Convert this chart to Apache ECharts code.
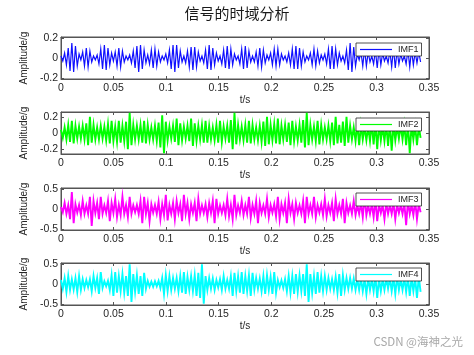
<!DOCTYPE html>
<html>
<head>
<meta charset="utf-8">
<script src="https://cdn.jsdelivr.net/npm/echarts@6/dist/echarts.min.js"></script>
<style>
html,body{margin:0;padding:0;background:#fff;}
#chart{width:474px;height:355px;}
</style>
</head>
<body>
<div id="chart"></div>
<script>
// ---- data ----
const titleText = '信号的时域分析';
const seriesNames = ['IMF1', 'IMF2', 'IMF3', 'IMF4'];
const xTicks = [0, 0.05, 0.1, 0.15, 0.2, 0.25, 0.3, 0.35];
const yTicks1 = [-0.2, 0, 0.2];
const yTicks2 = [-0.2, 0, 0.2];
const yTicks3 = [-0.5, 0, 0.5];
const yTicks4 = [-0.5, 0, 0.5];
const tEnd = 0.342; // last sample time (s)

const imf1 = [
 0.02,-0.03,0.05,
 -0.07,0.10,-0.13,0.15,-0.14,0.12,-0.08,0.04,
 -0.02,
 0.06,-0.08,0.10,-0.09,0.07,-0.04,
 0.02,-0.02,0.03,
 -0.06,0.09,-0.11,0.13,-0.12,0.10,-0.07,0.05,-0.03,
 0.06,-0.08,0.10,-0.09,0.07,-0.04,0.02,
 -0.02,0.03,-0.05,
 0.07,-0.10,0.12,-0.14,0.13,-0.11,0.08,-0.05,0.03,
 -0.06,0.08,-0.10,0.09,-0.08,0.06,-0.04,0.02,
 -0.02,0.04,-0.05,
 0.08,-0.11,0.13,-0.14,0.13,-0.10,0.07,-0.04,0.02,
 -0.05,0.07,-0.09,0.11,-0.12,0.11,-0.09,0.06,-0.03,0.02,
 -0.05,0.08,-0.11,0.13,-0.12,0.10,-0.07,0.05,-0.03,0.02,
 -0.06,0.08,-0.10,0.12,-0.11,0.09,-0.07,0.04,-0.02,0.02,
 -0.06,0.09,-0.11,0.12,-0.10,0.07,-0.04,0.02,
 -0.04,0.06,-0.08,0.10,-0.09,0.08,-0.05,0.03,-0.02,
 0.05,-0.07,0.09,-0.08,0.09,-0.07,0.04,-0.02,0.02,-0.04,
 0.05,-0.07,0.09,-0.11,0.12,-0.11,0.10,-0.08,0.06,-0.04,0.02,-0.02,
 0.05,-0.07,0.09,-0.08,0.07,-0.05,0.03,-0.02,
 0.04,-0.06,0.09,-0.11,0.12,-0.11,0.09,-0.07,0.05,-0.03,0.02,
 -0.05,0.08,-0.12,0.15,-0.14,0.11,-0.08,0.04,-0.02,
 0.06,-0.08,0.09,-0.08,0.06,-0.04,0.02,
 -0.06,0.08,-0.10,0.09,-0.07,0.05,-0.03,0.02,
 -0.05,0.07,-0.09,0.10,-0.10,0.08,-0.06,0.04,-0.03,0.02,
 -0.06,0.08,-0.09,0.08,-0.07,0.06,-0.05,0.06,-0.04
];

const imf2 = [
 0.04,-0.06,0.07,-0.08,0.10,-0.11,0.15,-0.13,0.09,-0.07,
 0.08,-0.07,0.09,-0.08,0.12,-0.15,0.20,-0.12,0.10,-0.08,
 0.07,-0.08,0.09,-0.07,0.08,-0.09,0.11,-0.13,0.15,-0.10,
 0.08,-0.11,0.15,-0.12,0.09,-0.10,0.14,-0.20,0.25,-0.15,
 0.10,-0.08,0.09,-0.08,0.10,-0.12,0.15,-0.13,0.10,-0.08,
 0.07,-0.08,0.09,-0.10,0.13,-0.18,0.22,-0.25,0.14,-0.09,
 0.08,-0.07,0.09,-0.11,0.18,-0.15,0.12,-0.09,0.08,-0.07,
 0.09,-0.10,0.18,-0.16,0.12,-0.10,0.09,-0.08,0.10,-0.12,
 0.15,-0.12,0.09,-0.08,0.07,-0.09,0.10,-0.12,0.15,-0.11,
 0.08,-0.07,0.09,-0.12,0.16,-0.20,0.25,-0.14,0.10,-0.08,
 0.08,-0.09,0.10,-0.12,0.15,-0.13,0.10,-0.08,0.07,-0.09,
 0.09,-0.11,0.14,-0.16,0.20,-0.14,0.10,-0.09,0.11,-0.13,
 0.18,-0.14,0.09,-0.08,0.10,-0.11,0.13,-0.15,0.15,-0.10,
 0.08,-0.09,0.10,-0.12,0.16,-0.18,0.25,-0.15,0.10,-0.08,
 0.08,-0.10,0.15,-0.14,0.10,-0.08,0.07,-0.08,0.09,-0.10,
 0.13,-0.15,0.20,-0.13,0.10,-0.12,0.14,-0.16,0.20,-0.12,
 0.09,-0.08,0.07,-0.10,0.12,-0.15,0.10,-0.08,0.07,-0.09,
 0.08,-0.10,0.12,-0.14,0.13,-0.20,0.12,-0.09,0.08,-0.10,
 0.11,-0.16,0.13,-0.22,0.11,-0.09,0.08,-0.07,0.09,-0.08,
 0.10,-0.15,0.12,-0.25,0.10,-0.08,0.09,-0.15,0.08,-0.06
];

const imf3 = [
 0.05,-0.08,0.15,-0.12,0.10,-0.25,0.42,-0.35,0.12,-0.09,
 0.10,-0.15,0.20,-0.12,0.09,-0.12,0.30,-0.42,0.20,-0.10,
 0.15,-0.25,0.30,-0.12,0.09,-0.10,0.20,-0.30,0.15,-0.10,
 0.25,-0.20,0.10,-0.15,0.30,-0.12,0.10,-0.20,0.30,-0.12,
 0.09,-0.08,0.10,-0.12,0.20,-0.35,0.30,-0.12,0.15,-0.30,
 0.12,-0.09,0.10,-0.12,0.18,-0.25,0.12,-0.15,0.35,-0.28,
 0.10,-0.12,0.15,-0.25,0.20,-0.10,0.12,-0.30,0.35,-0.12,
 0.15,-0.25,0.12,-0.10,0.15,-0.30,0.25,-0.12,0.09,-0.10,
 0.12,-0.20,0.15,-0.10,0.20,-0.35,0.25,-0.12,0.09,-0.10,
 0.10,-0.15,0.25,-0.18,0.10,-0.25,0.35,-0.15,0.09,-0.10,
 0.20,-0.15,0.10,-0.12,0.30,-0.22,0.10,-0.12,0.20,-0.35,
 0.15,-0.10,0.09,-0.12,0.25,-0.20,0.10,-0.09,0.12,-0.18,
 0.30,-0.25,0.12,-0.10,0.15,-0.35,0.25,-0.10,0.12,-0.25,
 0.15,-0.10,0.09,-0.12,0.20,-0.35,0.30,-0.12,0.10,-0.12,
 0.30,-0.20,0.10,-0.09,0.12,-0.15,0.25,-0.18,0.10,-0.10,
 0.15,-0.30,0.25,-0.12,0.10,-0.12,0.25,-0.35,0.15,-0.10,
 0.09,-0.12,0.20,-0.15,0.10,-0.12,0.15,-0.20,0.30,-0.15,
 0.10,-0.12,0.12,-0.20,0.25,-0.30,0.12,-0.10,0.10,-0.25,
 0.15,-0.12,0.10,-0.12,0.15,-0.25,0.12,-0.10,0.09,-0.12,
 0.15,-0.40,0.20,-0.12,0.10,-0.15,0.20,-0.25,0.12,-0.08
];

const imf4 = [
 0.10,-0.12,0.15,-0.20,0.20,-0.15,0.12,-0.14,0.15,-0.20,
 0.20,-0.15,0.12,-0.10,0.10,-0.08,0.12,-0.18,0.20,-0.10,
 0.15,-0.25,0.30,-0.10,0.07,-0.06,0.08,-0.15,0.22,-0.30,
 0.30,-0.22,0.20,-0.18,0.25,-0.22,0.20,-0.30,0.50,-0.45,
 0.25,-0.20,0.22,-0.25,0.20,-0.30,0.28,-0.12,0.08,-0.07,
 0.06,-0.07,0.07,-0.06,0.08,-0.10,0.15,-0.25,0.22,-0.18,
 0.20,-0.15,0.15,-0.12,0.15,-0.18,0.20,-0.22,0.30,-0.25,
 0.18,-0.15,0.20,-0.18,0.22,-0.30,0.28,-0.35,0.50,-0.50,
 0.20,-0.15,0.15,-0.12,0.14,-0.15,0.10,-0.09,0.12,-0.15,
 0.20,-0.12,0.10,-0.12,0.20,-0.30,0.28,-0.18,0.20,-0.22,
 0.30,-0.25,0.20,-0.18,0.22,-0.30,0.28,-0.15,0.15,-0.12,
 0.14,-0.18,0.20,-0.25,0.22,-0.15,0.18,-0.25,0.30,-0.22,
 0.10,-0.08,0.09,-0.10,0.12,-0.18,0.20,-0.22,0.20,-0.25,
 0.25,-0.20,0.22,-0.18,0.25,-0.30,0.50,-0.45,0.25,-0.22,
 0.20,-0.25,0.30,-0.22,0.20,-0.18,0.20,-0.15,0.15,-0.12,
 0.12,-0.15,0.18,-0.22,0.25,-0.30,0.22,-0.15,0.15,-0.12,
 0.15,-0.12,0.14,-0.15,0.12,-0.15,0.14,-0.18,0.12,-0.25,
 0.15,-0.15,0.12,-0.18,0.20,-0.35,0.15,-0.18,0.12,-0.15,
 0.14,-0.12,0.15,-0.18,0.15,-0.25,0.18,-0.15,0.12,-0.15,
 0.14,-0.20,0.18,-0.30,0.15,-0.18,0.15,-0.35,0.18,-0.20
];

const colors = ['#1010ff', '#00ff00', '#ff00ff', '#00ffff'];

// ---- layout ----
const gridTops = [37, 112, 188, 263];
const gridH = 42;
const yRanges = [[-0.21, 0.21], [-0.26, 0.26], [-0.52, 0.52], [-0.53, 0.53]];
const yTickSets = [yTicks1, yTicks2, yTicks3, yTicks4];
const allData = [imf1, imf2, imf3, imf4];
const lineWidths = [1.2, 1.9, 1.9, 1.9];
const axisColor = '#555555';
const textColor = '#262626';
const latin = '"Liberation Sans", Arial, Helvetica, sans-serif';

const grids = [], xAxes = [], yAxes = [], series = [], legends = [];
for (let k = 0; k < 4; k++) {
  grids.push({left: 61, width: 368, top: gridTops[k], height: gridH,
    show: true, borderColor: axisColor, borderWidth: 1, backgroundColor: '#fff'});
}
const fmtX = v => String(Math.round(v * 100) / 100);
for (let k = 0; k < 4; k++) {
  xAxes.push({
    type: 'value', gridIndex: k, min: 0, max: 0.35, interval: 0.05, position: 'bottom',
    name: 't/s', nameLocation: 'middle', nameGap: 13,
    nameTextStyle: {fontFamily: latin, fontSize: 10, color: textColor},
    axisLine: {show: true, onZero: false, lineStyle: {color: axisColor, width: 1}},
    axisTick: {show: true, inside: true, length: 3, lineStyle: {color: axisColor}},
    axisLabel: {show: true, margin: 4, fontFamily: latin, fontSize: 10.5, color: textColor, formatter: fmtX},
    splitLine: {show: false}
  });
}
for (let k = 0; k < 4; k++) {
  xAxes.push({
    type: 'value', gridIndex: k, min: 0, max: 0.35, interval: 0.05, position: 'top',
    axisLine: {show: true, onZero: false, lineStyle: {color: axisColor, width: 1}},
    axisTick: {show: true, inside: true, length: 3, lineStyle: {color: axisColor}},
    axisLabel: {show: false}, splitLine: {show: false}
  });
}
for (let k = 0; k < 4; k++) {
  yAxes.push({
    type: 'value', gridIndex: k, min: yRanges[k][0], max: yRanges[k][1], position: 'left',
    name: 'Amplitude/g', nameLocation: 'middle', nameGap: 18, nameRotate: 90,
    nameTextStyle: {fontFamily: latin, fontSize: 10, color: textColor},
    axisLine: {show: true, onZero: false, lineStyle: {color: axisColor, width: 1}},
    axisTick: {show: true, inside: true, length: 3, lineStyle: {color: axisColor}, customValues: yTickSets[k]},
    axisLabel: {show: true, margin: 3, fontFamily: latin, fontSize: 10.5, color: textColor,
      customValues: yTickSets[k], formatter: v => String(v)},
    splitLine: {show: false}
  });
}
for (let k = 0; k < 4; k++) {
  yAxes.push({
    type: 'value', gridIndex: k, min: yRanges[k][0], max: yRanges[k][1], position: 'right',
    axisLine: {show: true, onZero: false, lineStyle: {color: axisColor, width: 1}},
    axisTick: {show: true, inside: true, length: 3, lineStyle: {color: axisColor}, customValues: yTickSets[k]},
    axisLabel: {show: false}, splitLine: {show: false}
  });
}
const legendTops = [43, 118, 193, 268];
for (let k = 0; k < 4; k++) {
  const vals = allData[k];
  const n = vals.length;
  series.push({
    type: 'line', name: seriesNames[k], xAxisIndex: k, yAxisIndex: k,
    data: vals.map((v, i) => [i * tEnd / (n - 1), v]),
    showSymbol: false, symbol: 'none', clip: true,
    lineStyle: {color: colors[k], width: lineWidths[k], join: 'miter'},
    itemStyle: {color: colors[k]},
    emphasis: {disabled: true}
  });
  legends.push({
    data: [seriesNames[k]], left: 356, top: legendTops[k],
    orient: 'horizontal', icon: 'rect', itemWidth: 32, itemHeight: 1.2, itemGap: 0,
    padding: [2, 3, 2, 4], borderColor: '#262626', borderWidth: 0.8, backgroundColor: '#fff',
    textStyle: {fontFamily: latin, fontSize: 9, color: textColor, padding: [0, 0, 0, 1]},
    selectedMode: false, z: 10
  });
}

const chart = echarts.init(document.getElementById('chart'), null, {renderer: 'canvas'});
chart.setOption({
  animation: false,
  backgroundColor: '#fff',
  title: {text: titleText, left: 'center', top: 6, padding: 0,
    textStyle: {fontFamily: '"Noto Sans CJK SC", sans-serif', fontSize: 15, fontWeight: 'normal', color: '#1a1a1a'}},
  grid: grids, xAxis: xAxes, yAxis: yAxes, series: series, legend: legends,
  graphic: [{type: 'text', right: 11, top: 336,
    style: {text: 'CSDN @海神之光', fill: '#a8a8a8', font: '11.5px "Noto Sans CJK SC", sans-serif'}}]
});
</script>
</body>
</html>
